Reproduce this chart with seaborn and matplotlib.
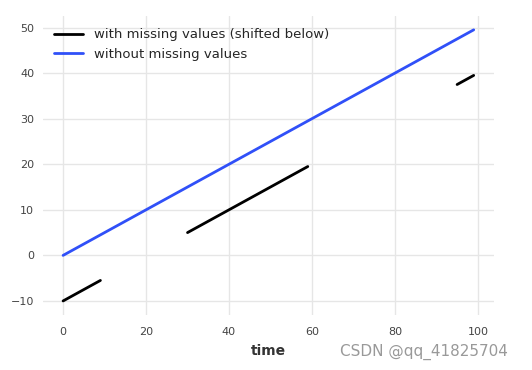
import matplotlib
matplotlib.use("Agg")
import matplotlib.pyplot as plt
import numpy as np
import pandas as pd
import seaborn as sns

# series (straight lines, so endpoints are enough)
full_time = [0, 99]
full_values = [0.0, 49.5]

# the shifted series with gaps: one list per observed chunk
gap_time = [0, 9, 30, 59, 95, 99]
gap_values = [-10.0, -5.5, 5.0, 19.5, 37.5, 39.5]
gap_segment = [0, 0, 1, 1, 2, 2]

x_ticks = [0, 20, 40, 60, 80, 100]
y_ticks = [-10, 0, 10, 20, 30, 40, 50]

sns.set_theme(style="whitegrid")
plt.rcParams["font.family"] = ["DejaVu Sans"]

df_full = pd.DataFrame({"time": full_time, "value": full_values})
df_gap = pd.DataFrame({"time": gap_time, "value": gap_values, "segment": gap_segment})

fig = plt.figure(figsize=(5.32, 3.70), dpi=100)
ax = fig.add_axes([0.080, 0.150, 0.849, 0.806])

sns.lineplot(data=df_gap, x="time", y="value", units="segment", estimator=None,
             color="black", linewidth=2, ax=ax)
sns.lineplot(data=df_full, x="time", y="value", color="#3050F8", linewidth=2, ax=ax)

ax.set_xlim(-4.95, 103.95)
ax.set_ylim(-12.975, 52.475)
ax.set_xticks(x_ticks)
ax.set_yticks(y_ticks)

for side in ["left", "right", "top", "bottom"]:
    ax.spines[side].set_visible(False)
ax.grid(True, color="#e6e6e6", linewidth=1)
ax.tick_params(axis="both", labelsize=8, labelcolor="#444444", colors="#444444",
               length=3, width=0.8, pad=3)
ax.tick_params(axis="x", length=0, pad=9)

ax.set_xlabel("time", fontsize=10, fontweight="bold", color="#333333", labelpad=5)
ax.set_ylabel("")

handles = [plt.Line2D([], [], color="black", linewidth=2),
           plt.Line2D([], [], color="#3050F8", linewidth=2)]
ax.legend(handles, ["with missing values (shifted below)", "without missing values"],
          loc="upper left", frameon=False, fontsize=9.5, handlelength=2.2,
          bbox_to_anchor=(0.0, 1.0))

fig.text(0.955, 0.049, "CSDN @qq_41825704", ha="right", va="center",
         fontsize=11, color="#999999")

fig.savefig("out.png", dpi=100)
